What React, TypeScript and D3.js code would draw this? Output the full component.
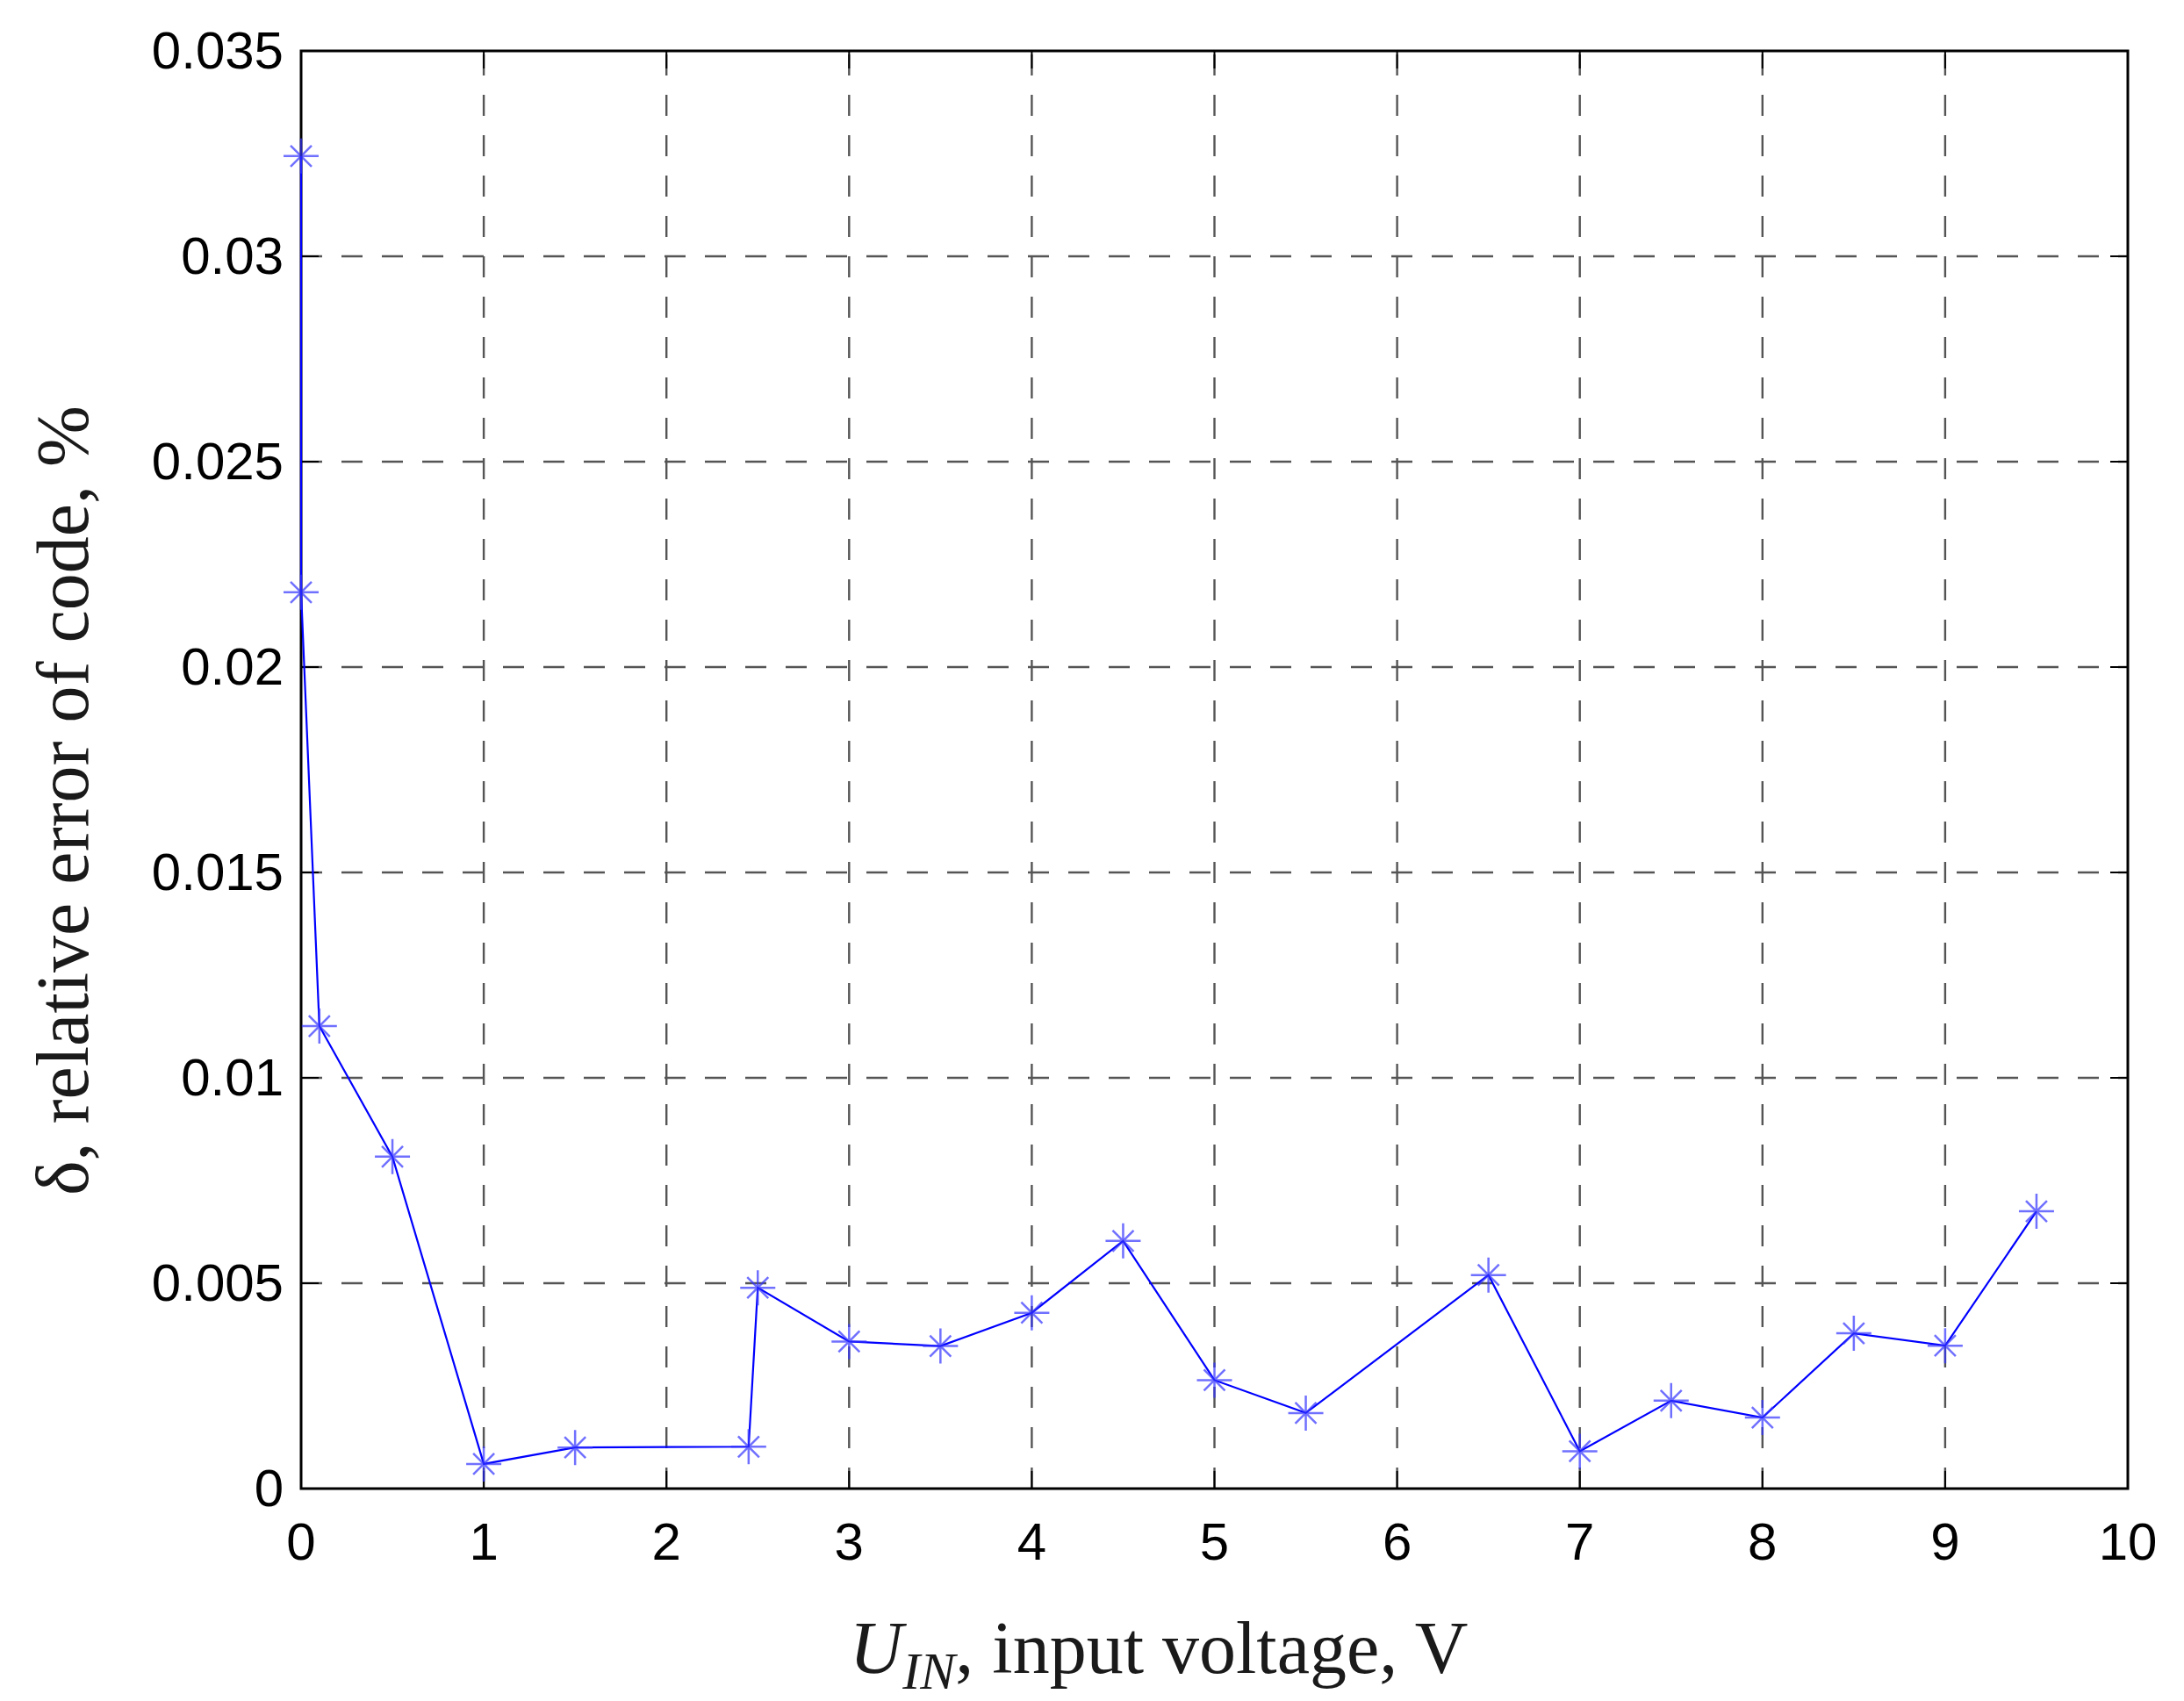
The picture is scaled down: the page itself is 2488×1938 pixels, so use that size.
import React, { useEffect, useRef } from "react";
import * as d3 from "d3";

// input voltage, V
const voltage = [0, 0, 0.1, 0.5, 1, 1.5, 2.45, 2.5, 3, 3.5, 4, 4.5, 5, 5.5, 6.5, 7, 7.5, 8, 8.5, 9, 9.5];
// relative error of code, %
const relError = [
  0.03244, 0.02182, 0.01126, 0.00808, 0.0006, 0.001, 0.00102, 0.00489, 0.00358, 0.00347, 0.00428,
  0.00603, 0.00264, 0.00184, 0.0052, 0.00091, 0.00214, 0.00173, 0.00378, 0.00348, 0.00675,
];

const xTicks = [0, 1, 2, 3, 4, 5, 6, 7, 8, 9, 10];
const yTicks = [0, 0.005, 0.01, 0.015, 0.02, 0.025, 0.03, 0.035];
const yTickLabels = ["0", "0.005", "0.01", "0.015", "0.02", "0.025", "0.03", "0.035"];

const WIDTH = 2488;
const HEIGHT = 1938;

const App: React.FC = () => {
  const svgRef = useRef<SVGSVGElement | null>(null);

  useEffect(() => {
    if (!svgRef.current) return;
    document.body.style.margin = "0";

    const svg = d3.select(svgRef.current);
    svg.selectAll("*").remove();

    // plot box
    const left = 343;
    const right = 2424;
    const top = 58;
    const bottom = 1696;

    const x = d3.scaleLinear().domain([0, 10]).range([left, right]);
    const y = d3.scaleLinear().domain([0, 0.035]).range([bottom, top]);

    const sans = "'Liberation Sans', Arial, Helvetica, sans-serif";
    const serif = "'Liberation Serif', 'Times New Roman', Times, serif";

    svg.append("rect").attr("width", WIDTH).attr("height", HEIGHT).attr("fill", "white");

    // dashed grid
    const grid = svg.append("g").attr("stroke", "#555").attr("stroke-width", 2.4).attr("stroke-dasharray", "24 22");
    grid.selectAll(".vgrid")
      .data(xTicks.slice(1, -1))
      .enter()
      .append("line")
      .attr("x1", d => x(d))
      .attr("x2", d => x(d))
      .attr("y1", bottom)
      .attr("y2", top);
    grid.selectAll(".hgrid")
      .data(yTicks.slice(1, -1))
      .enter()
      .append("line")
      .attr("x1", left)
      .attr("x2", right)
      .attr("y1", d => y(d))
      .attr("y2", d => y(d));

    // inward ticks on all four sides
    const tickLen = 20;
    const ticks = svg.append("g").attr("stroke", "black").attr("stroke-width", 2);
    xTicks.forEach(t => {
      ticks.append("line").attr("x1", x(t)).attr("x2", x(t)).attr("y1", bottom).attr("y2", bottom - tickLen);
      ticks.append("line").attr("x1", x(t)).attr("x2", x(t)).attr("y1", top).attr("y2", top + tickLen);
    });
    yTicks.forEach(t => {
      ticks.append("line").attr("x1", left).attr("x2", left + tickLen).attr("y1", y(t)).attr("y2", y(t));
      ticks.append("line").attr("x1", right).attr("x2", right - tickLen).attr("y1", y(t)).attr("y2", y(t));
    });

    // axes box
    svg.append("rect")
      .attr("x", left)
      .attr("y", top)
      .attr("width", right - left)
      .attr("height", bottom - top)
      .attr("fill", "none")
      .attr("stroke", "black")
      .attr("stroke-width", 3);

    // tick labels
    svg.append("g")
      .selectAll("text")
      .data(xTicks)
      .enter()
      .append("text")
      .attr("x", d => x(d))
      .attr("y", bottom + 81)
      .attr("text-anchor", "middle")
      .style("font-family", sans)
      .style("font-size", "60px")
      .text(d => String(d));

    svg.append("g")
      .selectAll("text")
      .data(yTicks)
      .enter()
      .append("text")
      .attr("x", left - 20)
      .attr("y", d => y(d) + 20)
      .attr("text-anchor", "end")
      .style("font-family", sans)
      .style("font-size", "60px")
      .text((d, i) => yTickLabels[i]);

    // data line
    const pts = voltage.map((v, i) => [v, relError[i]] as [number, number]);
    const line = d3.line<[number, number]>().x(d => x(d[0])).y(d => y(d[1]));
    svg.append("path")
      .attr("d", line(pts) as string)
      .attr("fill", "none")
      .attr("stroke", "#0000ff")
      .attr("stroke-width", 2.2);

    // asterisk markers
    const r = 20;
    const dg = 12;
    const star = `M0,${-r}V${r}M${-r},0H${r}M${-dg},${-dg}L${dg},${dg}M${-dg},${dg}L${dg},${-dg}`;
    svg.append("g")
      .selectAll("path")
      .data(pts)
      .enter()
      .append("path")
      .attr("transform", d => `translate(${x(d[0])},${y(d[1])})`)
      .attr("d", star)
      .attr("fill", "none")
      .attr("stroke", "#3333ff")
      .attr("stroke-opacity", 0.7)
      .attr("stroke-width", 2.5);

    // x axis label
    const xl = svg.append("text")
      .attr("x", 1320)
      .attr("y", 1906)
      .attr("text-anchor", "middle")
      .style("font-family", serif)
      .style("font-size", "84px")
      .attr("fill", "#1a1a1a");
    xl.append("tspan").style("font-style", "italic").text("U");
    xl.append("tspan").style("font-style", "italic").style("font-size", "60px").attr("dy", 18).text("IN");
    xl.append("tspan").attr("dy", -18).text(", input voltage, V");

    // y axis label
    svg.append("text")
      .attr("transform", `translate(100, 912) rotate(-90)`)
      .attr("text-anchor", "middle")
      .style("font-family", serif)
      .style("font-size", "84px")
      .attr("fill", "#1a1a1a")
      .text("δ, relative error of code, %");
  }, []);

  return (
    <svg
      ref={svgRef}
      width={WIDTH}
      height={HEIGHT}
      style={{ position: "absolute", left: 0, top: 0, display: "block" }}
    />
  );
};

export default App;
